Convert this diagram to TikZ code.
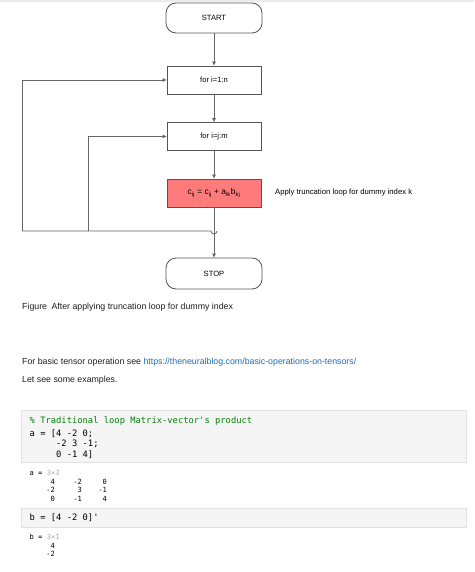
\documentclass[tikz,border=0pt]{standalone}
\usepackage{fontspec}
\setmainfont{Liberation Sans}
\setmonofont{DejaVu Sans Mono}
\usetikzlibrary{arrows.meta}
\definecolor{linegray}{HTML}{666666}
\definecolor{boxgray}{HTML}{555555}
\definecolor{redfill}{HTML}{FF7B7B}
\definecolor{codebg}{HTML}{F5F5F5}
\definecolor{codeborder}{HTML}{E2E2E2}
\definecolor{cmtgreen}{HTML}{028009}
\definecolor{linkblue}{HTML}{1F6FB5}
\definecolor{dimgray}{HTML}{AAAAAA}
\begin{document}
\begin{tikzpicture}[x=1pt,y=-1pt,
  term/.style={draw=boxgray,line width=0.8pt,rounded corners=10pt,minimum width=96pt,minimum height=30pt,inner sep=0pt,font=\fontsize{7.6}{8}\selectfont},
  proc/.style={draw=boxgray,line width=0.8pt,minimum width=94pt,minimum height=28pt,inner sep=0pt,font=\fontsize{7.6}{8}\selectfont},
  conn/.style={draw=linegray,line width=0.8pt},
  arr/.style={conn,-{Triangle[length=4pt,width=3.5pt]}},
  txt/.style={anchor=base west,inner sep=0pt,font=\fontsize{8.8}{10}\selectfont,text=black!88},
  code/.style={anchor=base west,inner sep=0pt,font=\ttfamily\fontsize{8.8}{10}\selectfont},
  outnum/.style={anchor=base east,inner sep=0pt,font=\ttfamily\fontsize{7.1}{8}\selectfont},
  codebox/.style={draw=codeborder,fill=codebg,line width=0.6pt,inner sep=0pt}
]
\useasboundingbox (0,0) rectangle (474,572);
\fill[white] (0,0) rectangle (474,572);
\fill[black!8] (0,0) rectangle (474,2.5);
% flowchart
\node[term] (start) at (214,18) {START};
\node[proc] (loop1) at (214,80) {for i=1:n};
\node[proc] (loop2) at (214,136.5) {for i=j:m};
\node[proc,fill=redfill,font=\fontsize{8.4}{9}\selectfont] (body) at (214,193) {c\textsubscript{ij} = c\textsubscript{ij} + a\textsubscript{ik}b\textsubscript{kj}};
\node[term,minimum height=31pt] (stop) at (214,273.5) {STOP};
\node[anchor=west,inner sep=0pt,font=\fontsize{7.7}{8}\selectfont] (note) at (275,193) {Apply truncation loop for dummy index k};
\coordinate (j) at (214,231);
\coordinate (c1) at (22,231);
\coordinate (c2) at (88,231);
\draw[arr] (start) -- (loop1);
\draw[arr] (loop1) -- (loop2);
\draw[arr] (loop2) -- (body);
\draw[arr] (body) -- (stop);
\draw[conn] (c1) -- ([xshift=-3pt]j) arc[start angle=180,end angle=360,radius=3pt] -- ([xshift=3pt]j);
\draw[arr] (c1) |- (loop1.west);
\draw[arr] (c2) |- (loop2.west);
% text
\node[txt] (cap) at (22,309) {Figure\enspace After applying truncation loop for dummy index};
\node[txt] (see) at (22,364) {For basic tensor operation see \textcolor{linkblue}{https://theneuralblog.com/basic-operations-on-tensors/}};
\node[txt] (ex) at (22,382.5) {Let see some examples.};
% code box 1
\node[codebox,minimum width=445pt,minimum height=52pt,anchor=north west] (cb1) at (21,410) {};
\node[code,text=cmtgreen] (l1) at (29.5,423) {\% Traditional loop Matrix-vector's product};
\node[code] (l2) at (29.5,436) {a = [4 -2 0;};
\node[code] (l3) at (29.5,446.5) {\ \ \ \ \ -2 3 -1;};
\node[code] (l4) at (29.5,457) {\ \ \ \ \ 0 -1 4]};
% output a
\node[anchor=base west,inner sep=0pt,font=\ttfamily\fontsize{7.1}{8}\selectfont] (oa) at (29.5,475.5) {a = \textcolor{dimgray}{3×3}};
\node[outnum] (a11) at (55,484) {4};
\node[outnum] (a12) at (82,484) {-2};
\node[outnum] (a13) at (107,484) {0};
\node[outnum] (a21) at (55,492.5) {-2};
\node[outnum] (a22) at (82,492.5) {3};
\node[outnum] (a23) at (107,492.5) {-1};
\node[outnum] (a31) at (55,501) {0};
\node[outnum] (a32) at (82,501) {-1};
\node[outnum] (a33) at (107,501) {4};
% code box 2
\node[codebox,minimum width=445pt,minimum height=19pt,anchor=north west] (cb2) at (21,508) {};
\node[code] (l5) at (29.5,520) {b = [4 -2 0]'};
% output b
\node[anchor=base west,inner sep=0pt,font=\ttfamily\fontsize{7.1}{8}\selectfont] (ob) at (29.5,539.5) {b = \textcolor{dimgray}{3×1}};
\node[outnum] (b1) at (55,548) {4};
\node[outnum] (b2) at (55,556.5) {-2};
\end{tikzpicture}
\end{document}
